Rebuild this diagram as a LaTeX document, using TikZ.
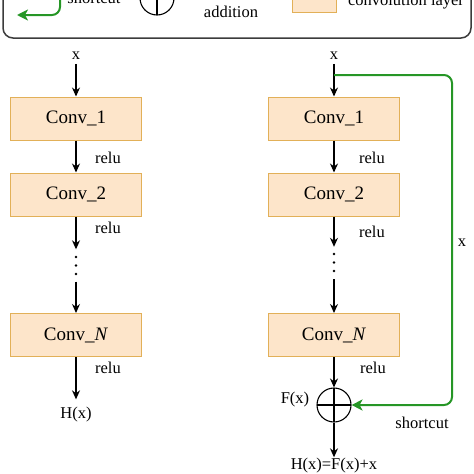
\documentclass[tikz,border=0pt]{standalone}
\usepackage{fontspec}
\setmainfont{Liberation Serif}
\usetikzlibrary{arrows.meta}
\definecolor{convfill}{RGB}{253,229,202}
\definecolor{convdraw}{RGB}{226,176,88}
\definecolor{scgreen}{RGB}{38,150,38}
\definecolor{legline}{RGB}{60,60,60}
\begin{document}
\begin{tikzpicture}[x=1pt,y=-1pt,
  conv/.style={draw=convdraw, fill=convfill, line width=1pt, minimum width=131pt, minimum height=43pt, inner sep=0pt, font=\fontsize{19}{22}\selectfont},
  lbl/.style={font=\fontsize{16.5}{19}\selectfont, inner sep=1pt},
  arr/.style={-{Stealth[length=9pt,width=8pt]}, line width=1.2pt, black},
  sc/.style={draw=scgreen, line width=2pt, rounded corners=8pt, -{Stealth[length=11pt,width=11pt,inset=3pt]}},
  addc/.style={circle, draw, line width=1.1pt, minimum size=34pt, inner sep=0pt,
    path picture={\draw[line width=1.1pt] (path picture bounding box.north) -- (path picture bounding box.south)
      (path picture bounding box.west) -- (path picture bounding box.east);}},
  dotsn/.style={minimum height=32pt, minimum width=4pt, inner sep=0pt}]
\useasboundingbox (0,0) rectangle (474,474);
\clip (0,0) rectangle (474,474);
% legend
\draw[line width=1.5pt, legline, rounded corners=10pt] (3,-40) rectangle (471,38);
\coordinate (lgs) at (60,-20);
\coordinate (lgc) at (60,15);
\coordinate (lge) at (17,15);
\draw[sc] (lgs) -- (lgc) -- (lge);
\node[lbl, anchor=base] (lgt1) at (94,3) {shortcut};
\node[addc] (lgadd) at (157,-2) {};
\node[lbl, anchor=base] (lgt2) at (231,17) {addition};
\node[draw=convdraw, fill=convfill, line width=1pt, minimum width=44pt, minimum height=30pt, inner sep=0pt] (lgconv) at (314,-3) {};
\node[lbl, anchor=base] (lgt3) at (406,5) {convolution layer};
% left column
\node[lbl] (xL) at (76,56) {x};
\node[conv] (c1L) at (76,118.5) {Conv\_1};
\node[conv] (c2L) at (76,194.5) {Conv\_2};
\node[dotsn] (dL) at (76,265.5) {};
\foreach \d in {257,265.5,274} \fill (76,\d) circle (1.3pt);
\node[conv] (cNL) at (76,335) {Conv\_\textit{N}};
\node[lbl] (hL) at (76,415) {H(x)};
\node[lbl] (r1L) at (108,158) {relu};
\node[lbl] (r2L) at (108,228) {relu};
\node[lbl] (r3L) at (108,368) {relu};
\draw[arr, shorten <=3pt] (xL) -- (c1L);
\draw[arr] (c1L) -- (c2L);
\draw[arr] (c2L) -- (dL);
\draw[arr] (dL) -- (cNL);
\draw[arr, shorten >=7pt] (cNL) -- (hL);
% right column
\node[lbl] (xR) at (334,56) {x};
\node[conv] (c1R) at (334,118.5) {Conv\_1};
\node[conv] (c2R) at (334,194.5) {Conv\_2};
\node[dotsn] (dR) at (334,263) {};
\foreach \d in {254,262.5,271} \fill (334,\d) circle (1.3pt);
\node[conv] (cNR) at (334,335) {Conv\_\textit{N}};
\node[addc] (add) at (334,405) {};
\node[lbl] (hR) at (334,466) {H(x)=F(x)+x};
\node[lbl] (r1R) at (372,158) {relu};
\node[lbl] (r2R) at (372,232) {relu};
\node[lbl] (r3R) at (373,368) {relu};
\node[lbl] (fx) at (295,400) {F(x)};
\node[lbl] (sclbl) at (422,423) {shortcut};
\node[lbl] (xlbl) at (462,243) {x};
\coordinate (sR) at (334,75);
\coordinate (k1) at (452,75);
\coordinate (k2) at (452,405);
\draw[arr, shorten <=3pt] (xR) -- (c1R);
\draw[sc] (sR) -- (k1) -- (k2) -- (add);
\draw[arr] (c1R) -- (c2R);
\draw[arr] (c2R) -- (dR);
\draw[arr] (dR) -- (cNR);
\draw[arr] (cNR) -- (add);
\draw[arr] (add) -- (hR);
\end{tikzpicture}
\end{document}
